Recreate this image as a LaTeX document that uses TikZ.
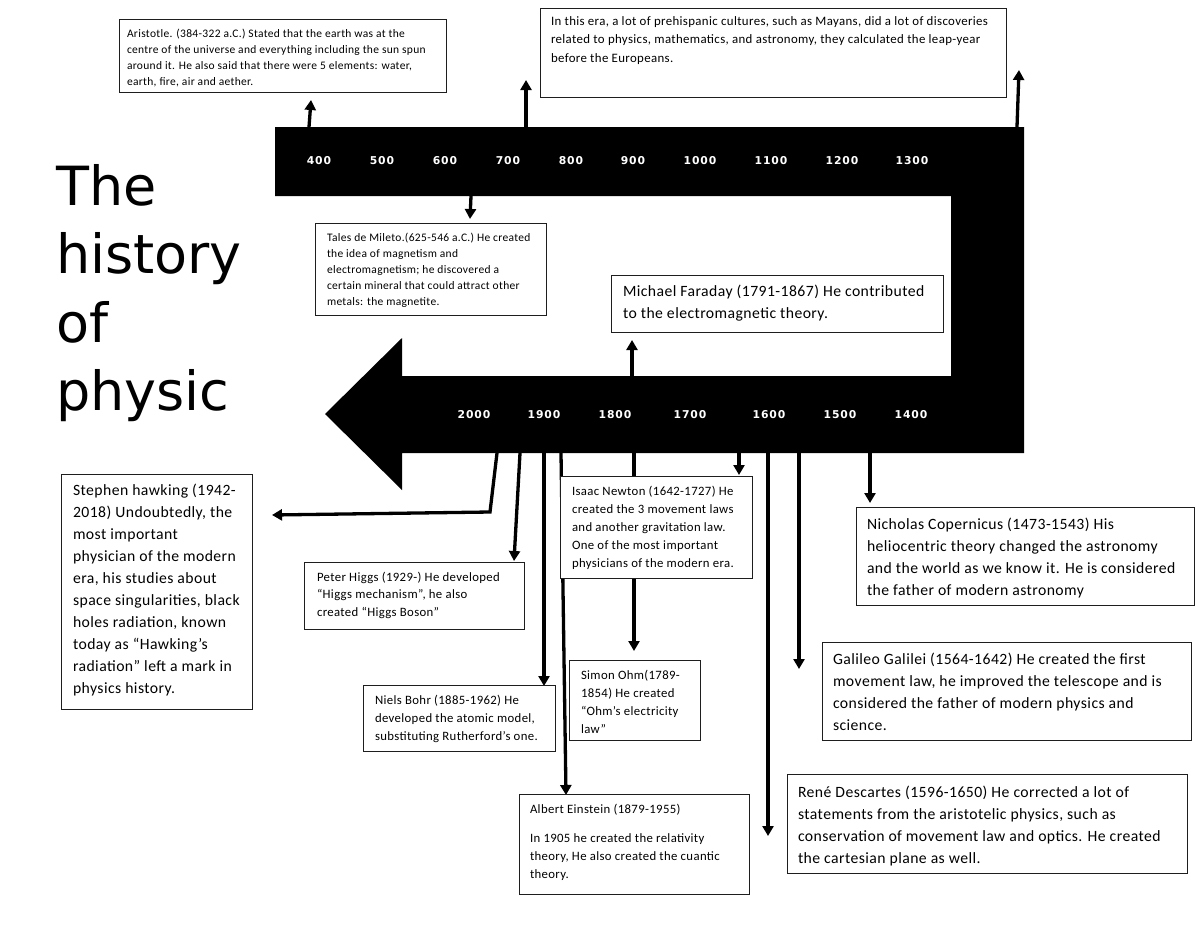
\documentclass[tikz,border=0pt]{standalone}
\usepackage{fontspec}
\usetikzlibrary{arrows.meta}
\setmainfont[LetterSpace=2.8]{Carlito}
\newfontfamily\titlefont{DejaVu Sans}
\newfontfamily\yearfont[LetterSpace=8]{DejaVu Sans Bold}
\definecolor{boxline}{HTML}{1E1E1E}
\tikzset{
  infobox/.style={draw=boxline,line width=1pt,fill=white,inner sep=0pt,outer sep=0pt,anchor=north west},
  conn/.style={line width=3.3pt,-{Triangle[width=11pt,length=10pt]},black,line join=miter},
  yearlabel/.style={text=white,inner sep=0pt,font=\yearfont\fontsize{10.8}{12}\selectfont},
  titletext/.style={inner sep=0pt,anchor=north west,align=left,font=\titlefont\fontsize{54}{68.4}\selectfont}
}
% name, x1, y1, x2, y2, padx, first baseline offset, size, leading, text
\newcommand{\tbox}[9]{%
  \pgfmathsetlengthmacro\bw{#4-#2}\pgfmathsetlengthmacro\bh{#5-#3}%
  \node[infobox,minimum width=\bw,minimum height=\bh] (#1) at (#2,#3) {\vbox to \bh{\hsize=\bw\relax
    \parindent=0pt\parskip=0pt\leftskip=#6pt\rightskip=0pt plus 1fil\hyphenpenalty=10000
    #8\vskip\dimexpr#7pt-\baselineskip\relax\prevdepth=0pt
    #9\par\vss}};}
\newcommand{\fsA}{\fontsize{11.5}{16}\selectfont}
\begin{document}
\begin{tikzpicture}[x=1pt,y=-1pt]
\useasboundingbox (0,0) rectangle (1200,927);
\fill[white] (0,0) rectangle (1200,927);
% timeline band
\fill[black] (275,127) -- (1024,127) -- (1024,453) -- (402,453) -- (402,490) -- (325,414) -- (402,338) -- (402,376) -- (951,376) -- (951,196) -- (275,196) -- cycle;
% connector ends on the band
\foreach \n/\x/\y in {sA/309/127,sB/526/127,sC/1017/127,sD/471/196,sE/632/376,sF/497/453,sG/520/453,sH/544/453,sI/561/453,sJ/634/453,sK/739/453,sL/768/453,sM/799/453,sN/870/453,
  eA/311/100,eB/526/80,eC/1019/70,eD/470/219,eE/632/340,eF/272/515,eG/514/561,eH/544/686,eI/566/795,eJ/634/651,eK/739/475,eL/768/836,eM/799/669,eN/870/503,kF/490/512}
  \coordinate (\n) at (\x,\y);
\draw[conn] (sA) -- (eA);
\draw[conn] (sB) -- (eB);
\draw[conn] (sC) -- (eC);
\draw[conn] (sD) -- (eD);
\draw[conn] (sE) -- (eE);
\draw[conn] (sF) -- (kF) -- (eF);
\draw[conn] (sG) -- (eG);
\draw[conn] (sH) -- (eH);
\draw[conn] (sI) -- (eI);
\draw[conn] (sJ) -- (eJ);
\draw[conn] (sK) -- (eK);
\draw[conn] (sL) -- (eL);
\draw[conn] (sM) -- (eM);
\draw[conn] (sN) -- (eN);
% years
\foreach \n/\t/\x/\y in {yA/400/319/160.5,yB/500/382/160.5,yC/600/445/160.5,yD/700/508/160.5,yE/800/571/160.5,yF/900/633/160.5,yG/1000/700/160.5,yH/1100/771/160.5,yI/1200/842/160.5,yJ/1300/912/160.5,
  yK/2000/474/414.5,yL/1900/544/414.5,yM/1800/615/414.5,yN/1700/690/414.5,yO/1600/769/414.5,yP/1500/840/414.5,yQ/1400/911/414.5}
  \node[yearlabel] (\n) at (\x,\y) {\t};
% title
\node[titletext] (title) at (56,164) {The\\history\\of\\physic};
% boxes
\tbox{aristotle}{119}{19}{446}{92}{8}{18}{\fsA}{Aristotle. (384-322 a.C.) Stated that the earth was at the\par centre of the universe and everything including the sun spun\par around it. He also said that there were 5 elements: water,\par earth, fire, air and aether.}
\tbox{era}{540}{8}{1006}{97}{11}{17.5}{\fontsize{12.85}{18.4}\selectfont}{In this era, a lot of prehispanic cultures, such as Mayans, did a lot of discoveries\par related to physics, mathematics, and astronomy, they calculated the leap-year\par before the Europeans.}
\tbox{tales}{315}{223}{546}{315}{12}{18}{\fsA}{Tales de Mileto.(625-546 a.C.) He created\par the idea of magnetism and\par electromagnetism; he discovered a\par certain mineral that could attract other\par metals: the magnetite.}
\tbox{faraday}{611}{275}{943}{332}{12}{21.5}{\fontsize{15.7}{22}\selectfont}{Michael Faraday (1791-1867) He contributed\par to the electromagnetic theory.}
\tbox{hawking}{61}{474}{252}{709}{12}{21}{\fontsize{15.7}{22}\selectfont}{Stephen hawking (1942-\par 2018) Undoubtedly, the\par most important\par physician of the modern\par era, his studies about\par space singularities, black\par holes radiation, known\par today as “Hawking’s\par radiation” left a mark in\par physics history.}
\tbox{higgs}{304}{562}{524}{629}{13}{19}{\fontsize{12.75}{17.6}\selectfont}{Peter Higgs (1929-) He developed\par “Higgs mechanism”, he also\par created “Higgs Boson”}
\tbox{bohr}{363}{685}{555}{751}{12}{19}{\fontsize{12.75}{18}\selectfont}{Niels Bohr (1885-1962) He\par developed the atomic model,\par substituting Rutherford’s one.}
\tbox{newton}{560}{476}{752}{578}{12}{19}{\fontsize{12.75}{18}\selectfont}{Isaac Newton (1642-1727) He\par created the 3 movement laws\par and another gravitation law.\par One of the most important\par physicians of the modern era.}
\tbox{ohm}{569}{660}{700}{740}{12}{19}{\fontsize{12.75}{18}\selectfont}{Simon Ohm(1789-\par 1854) He created\par “Ohm’s electricity\par law”}
\tbox{einstein}{519}{794}{749}{894}{11}{19}{\fontsize{12.75}{18.3}\selectfont}{Albert Einstein (1879-1955)\par\vskip 11pt In 1905 he created the relativity\par theory, He also created the cuantic\par theory.}
\tbox{copernicus}{856}{507}{1194}{605}{11}{22}{\fontsize{15.7}{22}\selectfont}{Nicholas Copernicus (1473-1543) His\par heliocentric theory changed the astronomy\par and the world as we know it. He is considered\par the father of modern astronomy}
\tbox{galileo}{822}{642}{1191}{740}{11}{22}{\fontsize{15.7}{22}\selectfont}{Galileo Galilei (1564-1642) He created the first\par movement law, he improved the telescope and is\par considered the father of modern physics and\par science.}
\tbox{descartes}{787}{774}{1187}{873}{11}{23}{\fontsize{15.7}{22}\selectfont}{René Descartes (1596-1650) He corrected a lot of\par statements from the aristotelic physics, such as\par conservation of movement law and optics. He created\par the cartesian plane as well.}
\end{tikzpicture}
\end{document}
